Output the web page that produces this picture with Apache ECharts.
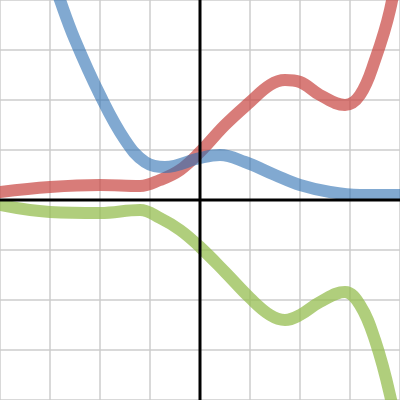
<!DOCTYPE html><html><head><meta charset="utf-8">
<script src="https://cdn.jsdelivr.net/npm/echarts@6/dist/echarts.min.js"></script>
<style>html,body{margin:0;padding:0;background:#fff}#c{width:400px;height:400px}</style></head><body><div id="c"></div>
<script>
const redX=[-4,-3,-2,-1.2,-0.8,-0.4,0,0.5,1,1.4,1.7,2,2.4,2.9,3.2,3.5,3.8,4];
const redY=[0.16,0.26,0.3,0.28,0.4,0.6,0.96,1.5,1.96,2.3,2.4,2.36,2.1,1.9,2.1,2.8,3.8,5];
const greenY=[-0.1,-0.24,-0.26,-0.2,-0.36,-0.6,-0.94,-1.44,-1.96,-2.3,-2.4,-2.3,-2.04,-1.84,-2.1,-2.8,-3.9,-5];
const blueX=[-3,-2.8,-2.5,-2,-1.5,-1.1,-0.7,0,0.4,0.9,1.5,2,2.6,3.2,4];
const blueY=[4.6,4,3.2,2.1,1.2,0.76,0.66,0.84,0.9,0.76,0.5,0.3,0.16,0.1,0.1];
const z=(xs,ys)=>xs.map((x,i)=>[x,ys[i]]);
const ax={type:'value',min:-4,max:4,interval:1,axisLabel:{show:false},axisTick:{show:false},
 axisLine:{show:false},splitLine:{lineStyle:{color:'#ccc',width:1.5}}};
const s=(d,c)=>({type:'line',data:d,smooth:0.4,symbol:'none',lineStyle:{color:c,width:12,cap:'round',join:'round'},z:3});
echarts.init(document.getElementById('c')).setOption({animation:false,
 grid:{left:0,right:0,top:0,bottom:0},xAxis:ax,yAxis:ax,
 series:[s(z(redX,redY),'rgba(199,68,64,0.7)'),s(z(blueX,blueY),'rgba(45,112,179,0.6)'),s(z(redX,greenY),'rgba(150,190,80,0.75)'),
 {type:'line',data:[[-4,0],[4,0]],symbol:'none',lineStyle:{color:'#000',width:3},z:5},
 {type:'line',data:[[0,-4],[0,4]],symbol:'none',lineStyle:{color:'#000',width:3},z:5}]});
</script></body></html>
